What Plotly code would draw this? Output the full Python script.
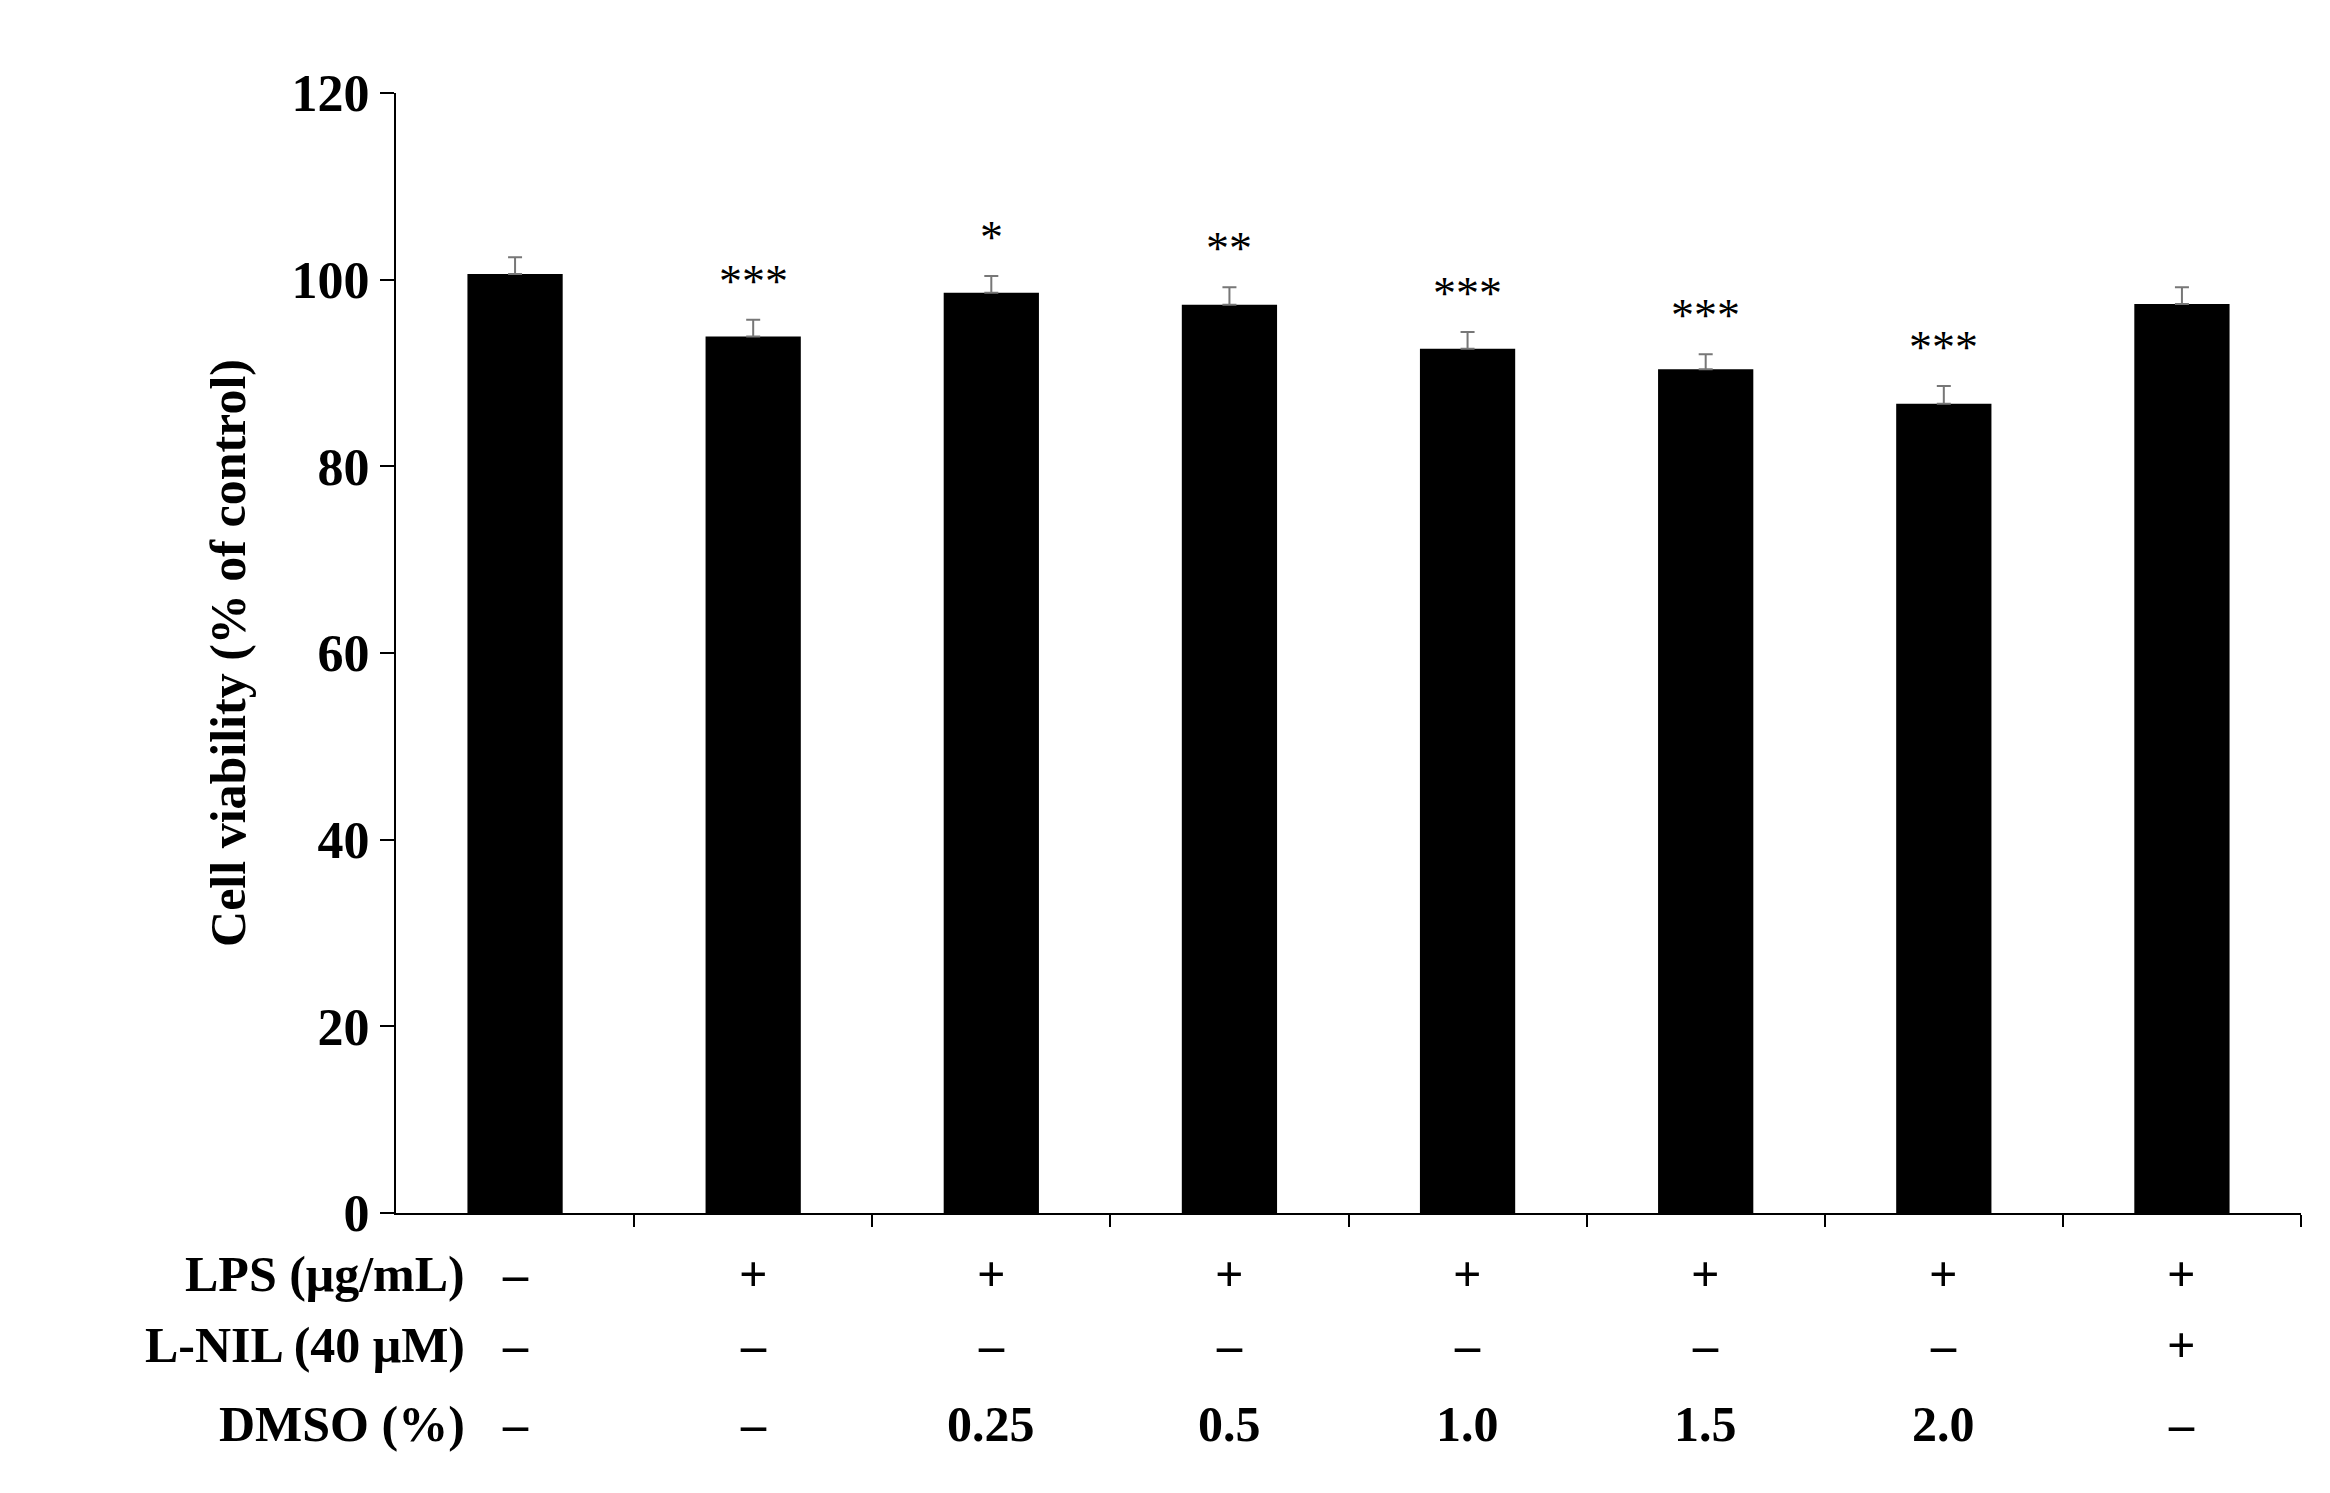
import plotly.graph_objects as go

values = [100.6, 93.9, 98.6, 97.3, 92.6, 90.4, 86.7, 97.4]
errors = [1.8, 1.8, 1.8, 1.9, 1.8, 1.6, 1.9, 1.8]
stars = ["", "***", "*", "**", "***", "***", "***", ""]
lps = ["–", "+", "+", "+", "+", "+", "+", "+"]
lnil = ["–", "–", "–", "–", "–", "–", "–", "+"]
dmso = ["–", "–", "0.25", "0.5", "1.0", "1.5", "2.0", "–"]
row_labels = ["LPS (μg/mL)", "L-NIL (40 μM)", "DMSO (%)"]
yticks = [0, 20, 40, 60, 80, 100, 120]

FONT = "Liberation Serif"
x = list(range(len(values)))
fig = go.Figure(go.Bar(
    x=x, y=values, width=0.4, marker=dict(color="black", line=dict(width=0)),
    error_y=dict(type="data", array=errors, symmetric=False, arrayminus=[0]*8,
                 color="#777777", thickness=2, width=7),
))
ann = []
for i in x:
    if stars[i]:
        ann.append(dict(x=i, y=values[i] + errors[i] + 1.2, text=stars[i], showarrow=False,
                        yanchor="bottom", font=dict(size=46, family=FONT, color="black")))
rows_y = [-0.081, -0.145, -0.215]
for r, (lab, vals) in enumerate(zip(row_labels, [lps, lnil, dmso])):
    ann.append(dict(x=-0.2, xref="x", y=rows_y[r], yref="paper", text="<b>%s</b>" % lab,
                    showarrow=False, xanchor="right",
                    font=dict(size=50, family=FONT, color="black")))
    for i in x:
        ann.append(dict(x=i, xref="x", y=rows_y[r], yref="paper", text="<b>%s</b>" % vals[i],
                        showarrow=False, font=dict(size=50, family=FONT, color="black")))
fig.update_layout(
    width=2330, height=1493, plot_bgcolor="white", paper_bgcolor="white",
    margin=dict(l=388, r=37, t=85, b=288), showlegend=False, annotations=ann,
    font=dict(family=FONT, color="black"),
    xaxis=dict(range=[-0.5, 7.5], tickvals=[0.5+i for i in range(8)], ticktext=[""]*8,
               ticks="outside", ticklen=12, tickwidth=2, tickcolor="black",
               showline=True, linecolor="black", linewidth=2, showgrid=False, zeroline=False),
    yaxis=dict(range=[0, 120], tickvals=yticks, ticks="outside", ticklen=14, tickwidth=2,
               tickcolor="black", showline=True, linecolor="black", linewidth=2, showgrid=False,
               zeroline=False, tickfont=dict(size=52, family=FONT, color="black", weight="bold"),
               title=dict(text="<b>Cell viability (% of control)</b>", standoff=30,
                          font=dict(size=50, family=FONT, color="black"))),
)
fig.write_html("out.html")
